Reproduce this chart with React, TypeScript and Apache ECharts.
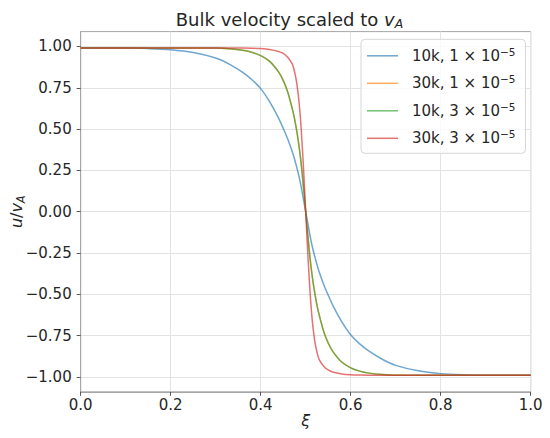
import React, { useEffect, useRef } from "react";
import * as echarts from "echarts";

const FONT = "DejaVu Sans";

const xs = [
  0, 0.05, 0.1, 0.15, 0.2, 0.25, 0.3, 0.33, 0.36, 0.38, 0.4, 0.42, 0.44, 0.45, 0.46, 0.47, 0.475, 0.48, 0.485, 0.49, 0.495,
  0.5,
  0.505, 0.51, 0.515, 0.52, 0.525, 0.53, 0.54, 0.55, 0.56, 0.58, 0.6, 0.62, 0.64, 0.67, 0.7, 0.75, 0.8, 0.85, 0.9, 0.95, 1.0,
];

const blue10k1 = [
  0.99, 0.99, 0.99, 0.987, 0.98, 0.963, 0.93, 0.893, 0.843, 0.8, 0.745, 0.665, 0.565, 0.505, 0.44, 0.365, 0.32, 0.27, 0.215, 0.15, 0.075,
  0,
  -0.075, -0.15, -0.215, -0.27, -0.32, -0.365, -0.44, -0.505, -0.565, -0.665, -0.745, -0.8, -0.843, -0.893, -0.93, -0.963, -0.98, -0.987, -0.99, -0.99, -0.99,
];

const orange30k1 = [
  0.99, 0.99, 0.99, 0.99, 0.99, 0.99, 0.99, 0.986, 0.977, 0.965, 0.945, 0.91, 0.845, 0.795, 0.725, 0.625, 0.565, 0.49, 0.4, 0.29, 0.15,
  0,
  -0.15, -0.29, -0.4, -0.49, -0.565, -0.625, -0.725, -0.795, -0.845, -0.91, -0.945, -0.965, -0.977, -0.986, -0.99, -0.99, -0.99, -0.99, -0.99, -0.99, -0.99,
];

const green10k3 = [
  0.99, 0.99, 0.99, 0.99, 0.99, 0.99, 0.99, 0.986, 0.977, 0.965, 0.945, 0.91, 0.845, 0.795, 0.725, 0.625, 0.565, 0.49, 0.4, 0.29, 0.15,
  0,
  -0.15, -0.29, -0.4, -0.49, -0.565, -0.625, -0.725, -0.795, -0.845, -0.91, -0.945, -0.965, -0.977, -0.986, -0.99, -0.99, -0.99, -0.99, -0.99, -0.99, -0.99,
];

const red30k3 = [
  0.99, 0.99, 0.99, 0.99, 0.99, 0.99, 0.99, 0.99, 0.99, 0.989, 0.987, 0.982, 0.97, 0.958, 0.935, 0.895, 0.85, 0.78, 0.67, 0.5, 0.27,
  0,
  -0.27, -0.5, -0.67, -0.78, -0.85, -0.895, -0.935, -0.958, -0.97, -0.982, -0.987, -0.989, -0.99, -0.99, -0.99, -0.99, -0.99, -0.99, -0.99, -0.99, -0.99,
];

const seriesNames = [
  "10k, 1 × 10⁻⁵",
  "30k, 1 × 10⁻⁵",
  "10k, 3 × 10⁻⁵",
  "30k, 3 × 10⁻⁵",
];
const seriesValues = [blue10k1, orange30k1, green10k3, red30k3];
const seriesColors = [
  "rgba(31,119,180,0.65)",
  "rgba(255,127,14,0.65)",
  "rgba(44,160,44,0.65)",
  "rgba(214,39,40,0.65)",
];

const yTicks = [-1, -0.75, -0.5, -0.25, 0, 0.25, 0.5, 0.75, 1];

const fmtY = (v: number) => (v < 0 ? "\u2212" : "") + Math.abs(v).toFixed(2);

export default function App() {
  const ref = useRef<HTMLDivElement>(null);
  useEffect(() => {
    const chart = echarts.init(ref.current!, null, { renderer: "svg" });
    chart.setOption({
      animation: false,
      backgroundColor: "#ffffff",
      grid: {
        left: 80.7,
        right: 19.3,
        top: 31.6,
        bottom: 46.2,
        containLabel: false,
        outerBoundsMode: "none",
        show: true,
        borderColor: "#a6a6a6",
        borderWidth: 1,
      },
      graphic: [
        {
          type: "text",
          x: 289.5,
          y: 19,
          style: {
            text: "Bulk velocity scaled to {i|v}{s|A}",
            align: "center",
            verticalAlign: "middle",
            fill: "#262626",
            fontFamily: FONT,
            fontSize: 18,
            rich: {
              i: { fontFamily: FONT, fontSize: 18, fontStyle: "italic", fill: "#262626" },
              s: { fontFamily: FONT, fontSize: 12.5, fontStyle: "italic", fill: "#262626", padding: [9, 0, 0, 0] },
            },
          },
        },
      ],
      legend: {
        orient: "vertical",
        left: 361,
        top: 39.3,
        padding: [7, 10, 6, 6],
        itemGap: 9,
        itemWidth: 31,
        itemHeight: 1.5,
        icon: "rect",
        backgroundColor: "rgba(255,255,255,0.8)",
        borderColor: "#d6d6d6",
        borderWidth: 1,
        borderRadius: 4,
        data: seriesNames,
        formatter: (name: string) => name.replace("10⁻⁵", "10{sup|−5}"),
        textStyle: {
          fontFamily: FONT,
          fontSize: 15,
          color: "#262626",
          lineHeight: 18,
          padding: [0, 0, 0, 9],
          rich: {
            sup: { fontFamily: FONT, fontSize: 10.5, color: "#262626", padding: [0, 0, 8, 0] },
          },
        },
      },
      xAxis: {
        type: "value",
        min: 0,
        max: 1,
        interval: 0.2,
        name: "ξ",
        nameLocation: "middle",
        nameGap: 21,
        nameMoveOverlap: false,
        nameTextStyle: { fontFamily: FONT, fontSize: 16, fontStyle: "italic", color: "#262626" },
        axisLine: { show: true, onZero: false, lineStyle: { color: "#a6a6a6" } },
        axisTick: { show: true, length: 4, lineStyle: { color: "#555" } },
        axisLabel: {
          formatter: (v: number) => v.toFixed(1),
          fontFamily: FONT,
          fontSize: 15,
          color: "#262626",
          margin: 6,
          showMinLabel: true,
          showMaxLabel: true,
        },
        splitLine: { show: true, lineStyle: { color: "#e3e3e3" } },
      },
      yAxis: {
        type: "value",
        min: -1.09,
        max: 1.09,
        name: "{i|u}{n|/}{i|v}{s|A}",
        nameLocation: "middle",
        nameGap: 54,
        nameMoveOverlap: false,
        nameRotate: 90,
        nameTextStyle: {
          fontFamily: FONT,
          fontSize: 16,
          color: "#262626",
          rich: {
            i: { fontFamily: FONT, fontSize: 16, fontStyle: "italic", color: "#262626" },
            n: { fontFamily: FONT, fontSize: 16, color: "#262626" },
            s: { fontFamily: FONT, fontSize: 11.5, fontStyle: "italic", color: "#262626", padding: [8, 0, 0, 0] },
          },
        },
        axisLine: { show: true, onZero: false, lineStyle: { color: "#a6a6a6" } },
        axisTick: { show: true, length: 4, customValues: yTicks, lineStyle: { color: "#555" } },
        axisLabel: {
          customValues: yTicks,
          formatter: fmtY,
          fontFamily: FONT,
          fontSize: 15,
          color: "#262626",
          margin: 9,
        },
        splitLine: { show: true, lineStyle: { color: "#e3e3e3" } },
      },
      series: seriesNames.map((name, k) => ({
        name,
        type: "line",
        symbol: "none",
        smooth: 0.3,
        color: seriesColors[k],
        lineStyle: { width: 1.5, color: seriesColors[k] },
        data: xs.map((x, i) => [x, seriesValues[k][i]]),
      })),
    });
    return () => chart.dispose();
  }, []);
  return (
    <div
      ref={ref}
      style={{ position: "fixed", left: 0, top: 0, width: 550, height: 438, background: "#fff" }}
    />
  );
}
